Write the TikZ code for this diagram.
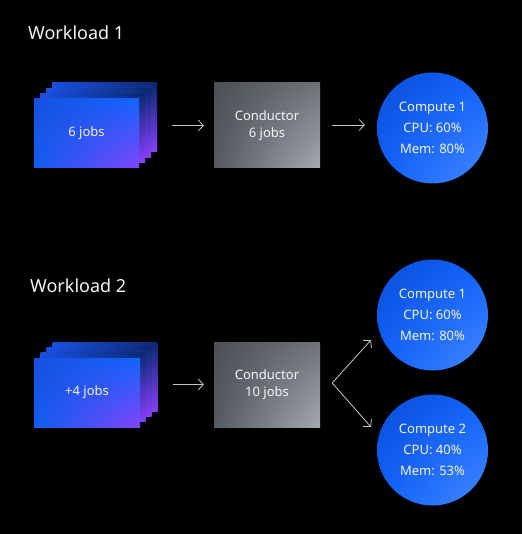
\documentclass[tikz,border=0pt]{standalone}
\usepackage{fontspec}
\setmainfont{Noto Sans}
\usetikzlibrary{arrows.meta,calc,shadings}
\definecolor{txt}{HTML}{F2F4F8}
\definecolor{arrc}{HTML}{C6C6C6}
\definecolor{lUL}{RGB}{24,80,225}
\definecolor{lUR}{RGB}{10,40,110}
\definecolor{lLL}{RGB}{25,85,235}
\definecolor{lLR}{RGB}{138,63,252}
\definecolor{fUL}{RGB}{22,80,222}
\definecolor{fUR}{RGB}{20,100,254}
\definecolor{fLL}{RGB}{15,94,240}
\definecolor{fLR}{RGB}{130,68,250}
\definecolor{cUL}{RGB}{74,80,86}
\definecolor{cUR}{RGB}{110,116,122}
\definecolor{cLL}{RGB}{84,90,96}
\definecolor{cLR}{RGB}{165,170,176}
\definecolor{pUL}{RGB}{10,78,214}
\definecolor{pM}{RGB}{15,98,254}
\definecolor{pLR}{RGB}{69,137,255}
\tikzset{
  layer/.style={minimum width=105pt,minimum height=69pt,inner sep=0pt,
    upper left=lUL,upper right=lUR,lower left=lLL,lower right=lLR},
  front/.style={minimum width=105pt,minimum height=69pt,inner sep=0pt,
    text=txt,font=\fontsize{13}{15}\selectfont,
    upper left=fUL,upper right=fUR,lower left=fLL,lower right=fLR},
  condbox/.style={minimum width=106pt,minimum height=85pt,inner sep=0pt,
    text=txt,align=center,font=\fontsize{13}{17}\selectfont,
    upper left=cUL,upper right=cUR,lower left=cLL,lower right=cLR},
  compute/.style={circle,minimum size=111pt,inner sep=0pt,
    text=txt,align=center,font=\fontsize{13}{21}\selectfont,
    upper left=pUL,upper right=pM,lower left=pM,lower right=pLR},
  title/.style={anchor=base west,inner sep=0pt,text=txt,font=\fontsize{18}{20}\selectfont},
  arr/.style={draw=arrc,line width=0.8pt,-{Straight Barb[length=5pt,width=11pt,line width=0.8pt]}},
}
\begin{document}
\begin{tikzpicture}[x=1pt,y=-1pt]
\fill[black] (0,0) rectangle (522,534);
\useasboundingbox (0,0) rectangle (522,534);

% Workload 1
\node[title] (w1) at (28,40) {Workload 1};
\node[layer,shade] (s1d) at (104.5,117.5) {};
\node[layer,shade] (s1c) at (98.5,122.8) {};
\node[layer,shade] (s1b) at (92.5,128.2) {};
\node[front,shade] (s1) at (86.5,133.5) {6 jobs};
\node[condbox,shade] (c1) at (267,125.5) {Conductor\\6 jobs};
\node[compute,shade] (p1) at (432.5,128) {Compute 1\\CPU: 60\%\\Mem: 80\%};
\draw[arr] ([xshift=15pt]s1d.east |- c1.west) -- ([xshift=-10pt]c1.west);
\draw[arr] ([shift={(12,-0.5)}]c1.east) -- ([shift={(-12,-0.5)}]c1.east -| p1.west);

% Workload 2
\node[title] (w2) at (30,292) {Workload 2};
\node[layer,shade] (s2d) at (105,376.5) {};
\node[layer,shade] (s2c) at (99,381.8) {};
\node[layer,shade] (s2b) at (93,387.2) {};
\node[front,shade,minimum width=106pt] (s2) at (87,392.5) {+4 jobs};
\node[condbox,shade] (c2) at (267,384.5) {Conductor\\10 jobs};
\node[compute,shade] (p2) at (432.5,315) {Compute 1\\CPU: 60\%\\Mem: 80\%};
\node[compute,shade] (p3) at (432.5,450) {Compute 2\\CPU: 40\%\\Mem: 53\%};
\draw[arr] ([xshift=15pt]s2d.east |- c2.west) -- ([xshift=-10pt]c2.west);
\coordinate (f) at ([shift={(12,-1.5)}]c2.east);
\coordinate (e2) at ([shift={(-61.5,25)}]p2.center);
\coordinate (e3) at ([shift={(-61.5,-23)}]p3.center);
\draw[arr] (f) -- (e2);
\draw[arr] (f) -- (e3);
\end{tikzpicture}
\end{document}
